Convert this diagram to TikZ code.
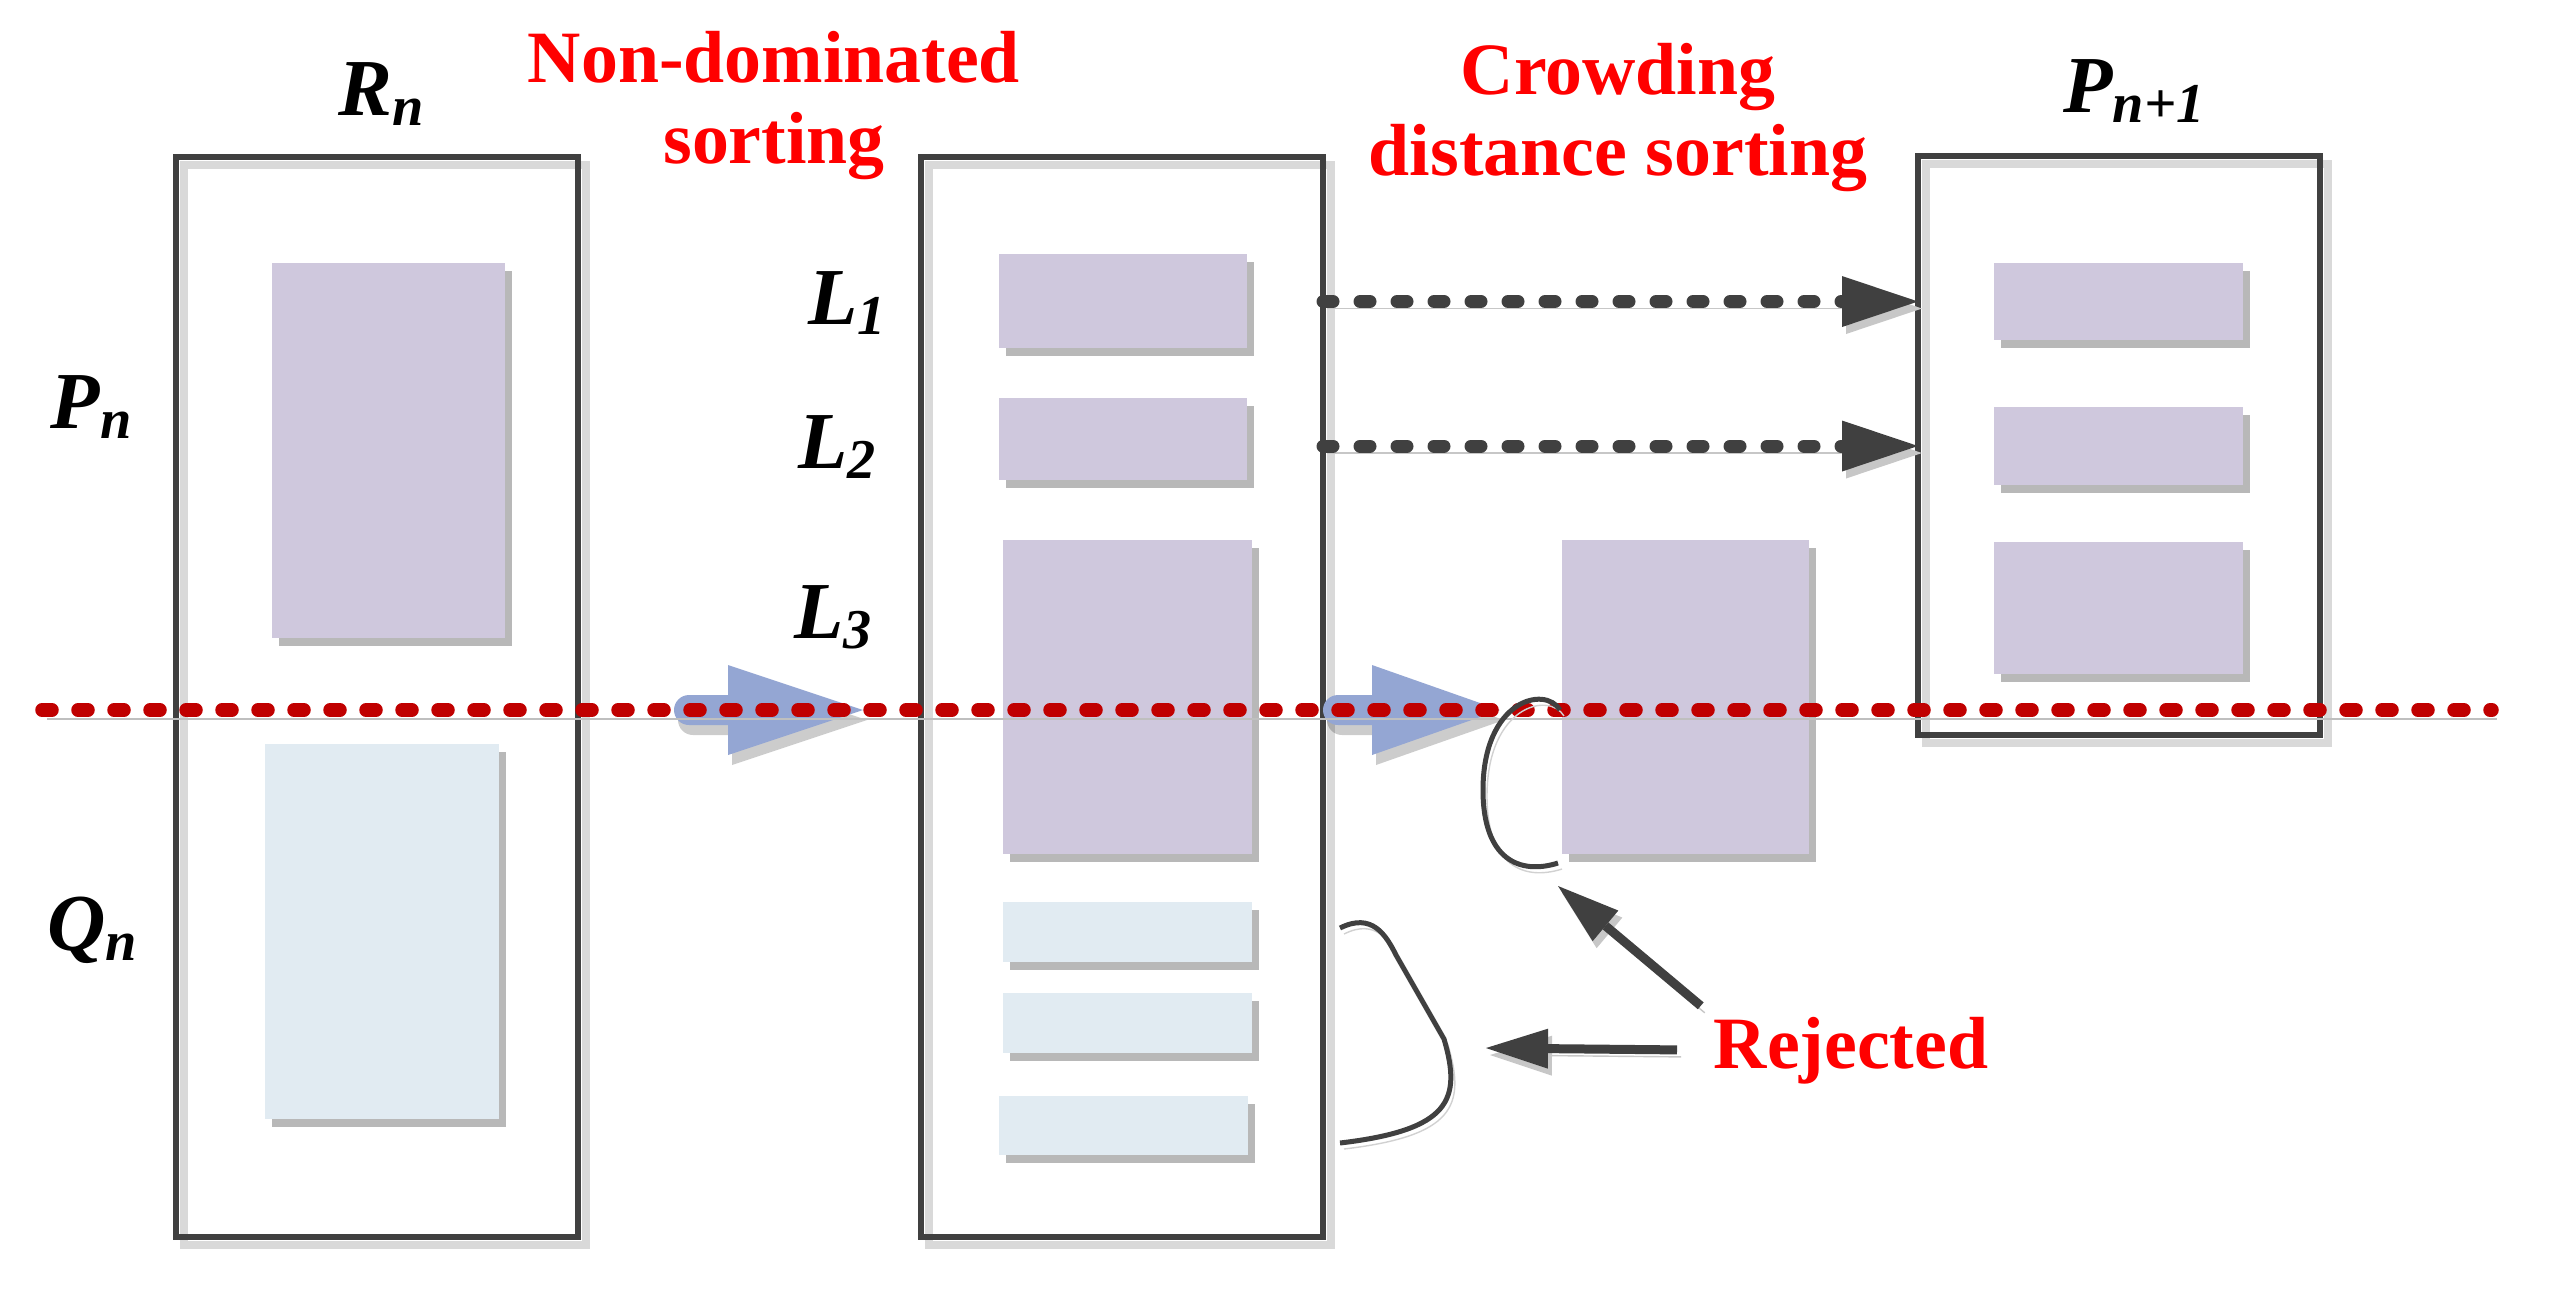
\documentclass[tikz,border=0pt]{standalone}
\usepackage{fontspec}
\setmainfont{Liberation Serif}
\usetikzlibrary{arrows.meta, shadows}

\definecolor{parentc}{RGB}{207,200,221}
\definecolor{childc}{RGB}{225,235,242}
\definecolor{arrowgray}{RGB}{64,64,64}
\definecolor{cutred}{RGB}{192,0,0}
\definecolor{fatblue}{RGB}{148,166,211}

\newcommand{\lowsub}[1]{\raisebox{-0.1cm}{\fontsize{16}{16}\selectfont #1}}

\begin{document}
\begin{tikzpicture}[
  frame/.style={draw=arrowgray, line width=0.055cm, inner sep=0, outer sep=0,
    preaction={draw=black!15, line width=0.08cm, transform canvas={shift={(0.08,-0.08)}}}},
  setbox/.style={inner sep=0, outer sep=0,
    drop shadow={shadow xshift=0.07cm, shadow yshift=-0.08cm, fill=black, opacity=0.28}},
  parent/.style={setbox, fill=parentc},
  child/.style={setbox, fill=childc},
  mathlbl/.style={font=\fontsize{23}{27}\selectfont\bfseries\itshape, inner sep=0},
  redlbl/.style={font=\fontsize{21}{23}\selectfont\bfseries, text=red, align=center, inner sep=0},
  fatarrow/.style={fill=fatblue, drop shadow={shadow xshift=0.04cm, shadow yshift=-0.1cm, fill=black, opacity=0.2}},
  cutline/.style={draw=cutred, line width=0.135cm, line cap=round, dash pattern=on 0.10cm off 0.26cm,
    preaction={draw=black!25, transform canvas={shift={(0.05,-0.09)}}}},
  dotarrow/.style={draw=arrowgray, line width=0.13cm, line cap=round, dash pattern=on 0.10cm off 0.27cm,
    -{Triangle[length=0.76cm, width=0.51cm, line width=0pt]},
    preaction={draw=black!22, transform canvas={shift={(0.04,-0.07)}}}},
  rejarrow/.style={draw=arrowgray, line width=0.09cm,
    -{Triangle[length=0.62cm, width=0.40cm, line width=0pt]},
    preaction={draw=black!22, transform canvas={shift={(0.04,-0.07)}}}},
  brace/.style={draw=arrowgray, line width=0.05cm,
    preaction={draw=black!18, transform canvas={shift={(0.04,-0.06)}}}}]
\useasboundingbox (0,0) rectangle (25.57,-12.95);

% population boxes
\node[frame, minimum width=4.02cm, minimum height=10.80cm] (rn) at (3.77,-6.97) {};
\node[frame, minimum width=4.02cm, minimum height=10.80cm] (nd) at (11.22,-6.97) {};
\node[frame, minimum width=4.02cm, minimum height=5.79cm] (pn1) at (21.19,-4.455) {};

% sets
\node[parent, minimum width=2.33cm, minimum height=3.75cm] (pnset) at (3.885,-4.505) {};
\node[child, minimum width=2.34cm, minimum height=3.75cm] (qnset) at (3.82,-9.315) {};
\node[parent, minimum width=2.48cm, minimum height=0.94cm] (l1) at (11.23,-3.01) {};
\node[parent, minimum width=2.48cm, minimum height=0.82cm] (l2) at (11.23,-4.39) {};
\node[parent, minimum width=2.49cm, minimum height=3.14cm] (l3) at (11.275,-6.97) {};
\node[child, minimum width=2.49cm, minimum height=0.60cm] (q1) at (11.275,-9.32) {};
\node[child, minimum width=2.49cm, minimum height=0.60cm] (q2) at (11.275,-10.23) {};
\node[child, minimum width=2.49cm, minimum height=0.59cm] (q3) at (11.235,-11.255) {};
\node[parent, minimum width=2.47cm, minimum height=3.14cm] (crowd) at (16.855,-6.97) {};
\node[parent, minimum width=2.49cm, minimum height=0.77cm] (s1) at (21.185,-3.015) {};
\node[parent, minimum width=2.49cm, minimum height=0.78cm] (s2) at (21.185,-4.46) {};
\node[parent, minimum width=2.49cm, minimum height=1.32cm] (s3) at (21.185,-6.08) {};

% fat arrows
\foreach \tl/\hb/\tp in {6.89/7.28/8.63, 13.38/13.72/15.00} {
  \fill[fatarrow] (\tl,-6.95) -- (\hb,-6.95) -- (\hb,-6.65) -- (\tp,-7.10) -- (\hb,-7.55)
    -- (\hb,-7.25) -- (\tl,-7.25) arc[start angle=270, end angle=90, radius=0.15] -- cycle;
}

% cut line
\coordinate (cutl) at (0.42,-7.10);
\coordinate (cutr) at (24.92,-7.10);
\draw[cutline] (cutl) -- (cutr);

% braces
\draw[brace] (15.60,-7.10) .. controls (15.45,-6.85) and (14.83,-7.00) .. (14.83,-7.90)
  .. controls (14.83,-8.60) and (15.20,-8.75) .. (15.58,-8.63);
\draw[brace] (13.40,-9.28) .. controls (13.72,-9.12) and (13.86,-9.35) .. (13.96,-9.55)
  -- (14.44,-10.39) .. controls (14.62,-11.00) and (14.50,-11.30) .. (13.40,-11.43);
\coordinate (cutend) at (15.58,-8.86);
\coordinate (lowend) at (14.86,-10.48);

% copies into P_{n+1}
\draw[dotarrow] (nd.east |- s1) -- (pn1.west |- s1);
\draw[dotarrow] (nd.east |- s2) -- (pn1.west |- s2);

% labels
\node[mathlbl, anchor=base] (rnlbl) at (3.81,-1.15) {R\lowsub{n}};
\node[mathlbl, anchor=base] (pn1lbl) at (21.34,-1.12) {P\lowsub{n+1}};
\node[mathlbl, anchor=base] (pnlbl) at (0.91,-4.28) {P\lowsub{n}};
\node[mathlbl, anchor=base] (qnlbl) at (0.92,-9.50) {Q\lowsub{n}};
\node[mathlbl, anchor=base] (l1lbl) at (8.47,-3.24) {L\lowsub{1}};
\node[mathlbl, anchor=base] (l2lbl) at (8.37,-4.68) {L\lowsub{2}};
\node[mathlbl, anchor=base] (l3lbl) at (8.33,-6.38) {L\lowsub{3}};
\node[redlbl, anchor=base] (ndlbl) at (7.74,-1.63) {Non-dominated\\sorting};
\node[redlbl, anchor=base] (cdlbl) at (16.18,-1.75) {Crowding\\distance sorting};
\node[redlbl, anchor=base west] (rej) at (17.13,-10.68) {Rejected};

% rejected
\draw[rejarrow, shorten <=0.36cm] (rej.west) -- (lowend);
\draw[rejarrow, shorten <=0.16cm] (rej.north west) -- (cutend);
\end{tikzpicture}
\end{document}
